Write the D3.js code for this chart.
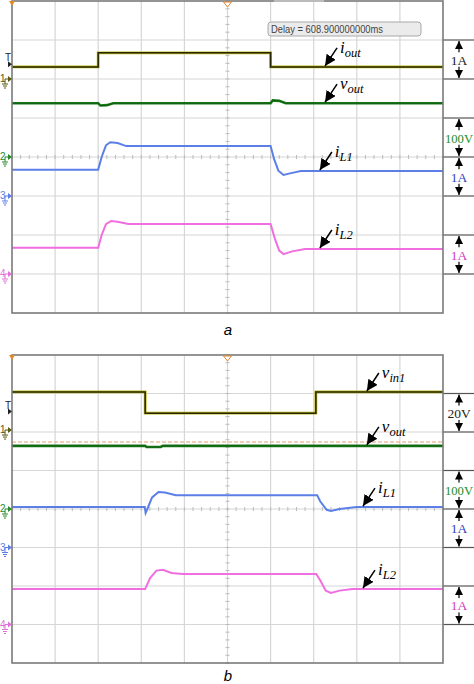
<!DOCTYPE html>
<html><head><meta charset="utf-8">
<script src="https://cdn.jsdelivr.net/npm/d3@7"></script>
<style>body{margin:0;background:#fff}svg{display:block}</style>
</head><body>
<svg id="c" width="474" height="684"></svg>
<script>
// ---- data (time in divisions 0..10, level in divisions from top 0..8) ----
const xDivisions = d3.range(0, 11);
const yDivisions = d3.range(0, 9);

// Panel a
const a_iout = [[0,1.69],[2.0,1.69],[2.0,1.33],[6.0,1.33],[6.0,1.69],[10,1.69]];
const a_vout = [[0,2.62],[2.0,2.62],[2.05,2.68],[2.2,2.67],[2.35,2.62],[6.0,2.62],[6.05,2.55],[6.2,2.56],[6.35,2.62],[10,2.62]];
const a_iL1  = [[0,4.33],[2.0,4.33],[2.08,4.0],[2.18,3.7],[2.28,3.62],[2.45,3.64],[2.65,3.72],[6.0,3.72],[6.08,4.05],[6.18,4.35],[6.3,4.46],[6.45,4.42],[6.7,4.36],[10,4.36]];
const a_iL2  = [[0,6.33],[2.0,6.33],[2.08,6.0],[2.18,5.72],[2.3,5.64],[2.45,5.66],[2.7,5.72],[6.0,5.72],[6.1,6.1],[6.2,6.4],[6.3,6.49],[6.5,6.42],[6.8,6.36],[10,6.36]];

// Panel b
const b_vin1 = [[0,0.96],[3.09,0.96],[3.09,1.51],[7.05,1.51],[7.05,0.96],[10,0.96]];
const b_vout = [[0,2.36],[3.09,2.36],[3.12,2.39],[3.45,2.39],[3.5,2.36],[10,2.36]];
const b_vref = [[0,2.26],[10,2.26]];
const b_iL1  = [[0,3.95],[3.08,3.95],[3.1,4.1],[3.14,4.0],[3.25,3.7],[3.4,3.56],[3.55,3.57],[3.8,3.64],[7.08,3.64],[7.15,3.8],[7.3,4.02],[7.4,4.05],[7.6,4.0],[8.0,3.95],[10,3.95]];
const b_iL2  = [[0,6.08],[3.09,6.08],[3.2,5.8],[3.35,5.6],[3.5,5.58],[3.7,5.66],[3.95,5.69],[7.06,5.69],[7.15,5.85],[7.28,6.12],[7.4,6.18],[7.6,6.12],[7.9,6.08],[10,6.08]];

// scale bars at right: [from div, to div, label]
const a_scales = [[1,2,"1A"],[3,4,"100V"],[4,5,"1A"],[6,7,"1A"]];
const b_scales = [[1,2,"20V"],[3,4,"100V"],[4,5,"1A"],[6,7,"1A"]];
const scaleLines = [1,2,3,4,5,6,7];

// channel markers: [label, level]
const a_markers = [["T",1.62],["1",2.0],["2",4.0],["3",5.0],["4",7.0]];
const b_markers = [["T",1.47],["1",1.95],["2",4.0],["3",5.0],["4",7.0]];

// annotations: [main letter, subscript, time(div) of arrow tip, trace]
const a_notes = [["i","out",7.24,"iout"],["v","out",7.24,"vout"],["i","L1",7.12,"iL1"],["i","L2",7.12,"iL2"]];
const b_notes = [["v","in1",8.21,"vin1"],["v","out",8.21,"vout"],["i","L1",8.12,"iL1"],["i","L2",8.12,"iL2"]];

const delayText = "Delay = 608.900000000ms";
const panelLabels = ["a","b"];

// ---- drawing ----
const svg = d3.select("#c");
const COL = {olive:"#262600", yellow:"#b8b418", green:"#1a7d1a", blue:"#5b7fe6", pink:"#f06ee0", grid:"#d6d6d6", border:"#7a7a7a", orange:"#e08a30"};
const chColors = {"T":"#222","1":"#5a5a10","2":"#2a8a2a","3":"#5b7fe6","4":"#e070d8"};
const scaleColors = ["#222", "#1e8c1e", "#3344bb", "#d040c0"];

const defs = svg.append("defs");
defs.append("marker").attr("id","ah").attr("viewBox","0 0 10 10")
  .attr("refX",10).attr("refY",5).attr("markerWidth",8).attr("markerHeight",8)
  .attr("markerUnits","userSpaceOnUse").attr("orient","auto")
  .append("path").attr("d","M0,0 L10,5 L0,10 z").attr("fill","#000");
defs.append("marker").attr("id","ah2").attr("viewBox","0 0 10 10")
  .attr("refX",10).attr("refY",5).attr("markerWidth",11).attr("markerHeight",11)
  .attr("markerUnits","userSpaceOnUse").attr("orient","auto")
  .append("path").attr("d","M0,0 L10,5 L0,10 z").attr("fill","#000");

function getLevel(tr, t){
  for(let i=1;i<tr.length;i++){
    if(t<=tr[i][0]){const [t0,v0]=tr[i-1],[t1,v1]=tr[i];return t1===t0?v1:v0+(v1-v0)*(t-t0)/(t1-t0);}
  }
  return tr[tr.length-1][1];
}

function panel(top, bottom, traces, scales, markers, notes, label, labelY, isB){
  const x = d3.scaleLinear().domain([0,10]).range([12,443]);
  const y = d3.scaleLinear().domain([0,8]).range([top,bottom]);
  const g = svg.append("g");
  // grid
  g.selectAll(".vg").data(xDivisions.slice(1,10)).join("line")
    .attr("x1",d=>x(d)).attr("x2",d=>x(d)).attr("y1",top).attr("y2",bottom)
    .attr("stroke",COL.grid).attr("stroke-width",1.2);
  g.selectAll(".hg").data(yDivisions.slice(1,8)).join("line")
    .attr("x1",x(0)).attr("x2",x(10)).attr("y1",d=>y(d)).attr("y2",d=>y(d))
    .attr("stroke",COL.grid).attr("stroke-width",1.2);
  // minor ticks on centre lines
  const mv = d3.range(0,8.01,0.2), mh = d3.range(0,10.01,0.2);
  g.selectAll(".mt").data(mv).join("line")
    .attr("x1",x(5)-2).attr("x2",x(5)+2).attr("y1",d=>y(d)).attr("y2",d=>y(d))
    .attr("stroke","#bbb").attr("stroke-width",1);
  g.selectAll(".mt2").data(mh).join("line")
    .attr("x1",d=>x(d)).attr("x2",d=>x(d)).attr("y1",y(4)-2).attr("y2",y(4)+2)
    .attr("stroke","#bbb").attr("stroke-width",1);
  // right scale lines
  g.selectAll(".sl").data(scaleLines).join("line")
    .attr("x1",x(10)).attr("x2",474).attr("y1",d=>y(d)).attr("y2",d=>y(d))
    .attr("stroke","#555").attr("stroke-width",1.2);
  scales.forEach((s,i)=>{
    const y0=y(s[0]), y1=y(s[1]), m=(y0+y1)/2, cx=459;
    g.append("line").attr("x1",cx).attr("x2",cx).attr("y1",m-7).attr("y2",y0+1)
      .attr("stroke","#000").attr("stroke-width",1.2).attr("marker-end","url(#ah)");
    g.append("line").attr("x1",cx).attr("x2",cx).attr("y1",m+7).attr("y2",y1-1)
      .attr("stroke","#000").attr("stroke-width",1.2).attr("marker-end","url(#ah)");
    g.append("rect").attr("x",cx-15).attr("y",m-7).attr("width",30).attr("height",14).attr("fill","#fff");
    const txt = g.append("text").attr("x",cx).attr("y",m+5).attr("text-anchor","middle")
      .attr("font-family","Liberation Serif, Times New Roman, serif").attr("font-size",13.5)
      .attr("fill",scaleColors[i]).text(s[2]);
    if(s[2].length>3) txt.attr("textLength",28).attr("lengthAdjust","spacingAndGlyphs");
  });
  // reference dashed line (panel b)
  const line = d3.line().x(d=>x(d[0])).y(d=>y(d[1]));
  if(isB){
    g.append("path").attr("d",line(b_vref)).attr("fill","none")
      .attr("stroke","#e0a070").attr("stroke-width",1.2).attr("stroke-dasharray","4,2");
  }
  // traces
  const [t1,t2,t3,t4] = traces;
  g.append("path").attr("d",line(t1.d)).attr("fill","none").attr("stroke",COL.yellow).attr("stroke-width",2.8);
  g.append("path").attr("d",line(t1.d)).attr("fill","none").attr("stroke",COL.olive).attr("stroke-width",1.5);
  g.append("path").attr("d",line(t2.d)).attr("fill","none").attr("stroke",COL.green).attr("stroke-width",2.6);
  g.append("path").attr("d",line(t2.d)).attr("fill","none").attr("stroke","#0f5a0f").attr("stroke-width",1);
  g.append("path").attr("d",line(t3.d)).attr("fill","none").attr("stroke",COL.blue).attr("stroke-width",2);
  g.append("path").attr("d",line(t4.d)).attr("fill","none").attr("stroke",COL.pink).attr("stroke-width",2);
  // border
  g.append("rect").attr("x",x(0)).attr("y",top).attr("width",x(10)-x(0)).attr("height",bottom-top)
    .attr("fill","none").attr("stroke",COL.border).attr("stroke-width",1.6);
  // top markers
  g.append("path").attr("d",`M${x(0)-3},${top} L${x(0)+3},${top} L${x(0)},${top+5} z`).attr("fill",COL.orange);
  g.append("path").attr("d",`M${x(5)-4},${top+1} L${x(5)+4},${top+1} L${x(5)},${top+6} z`)
    .attr("fill","#fff").attr("stroke",COL.orange).attr("stroke-width",1);
  // channel markers
  markers.forEach(m=>{
    const yy=y(m[1]), c=chColors[m[0]];
    g.append("path").attr("d",`M${x(0)-4},${yy-3} L${x(0)},${yy} L${x(0)-4},${yy+3} z`).attr("fill",c);
    if(m[0]==="T"){
      g.append("text").attr("x",5).attr("y",yy-3).attr("font-family","Liberation Sans, sans-serif")
        .attr("font-size",10).attr("fill",c).text("T");
    } else {
      g.append("text").attr("x",0).attr("y",yy+3).attr("font-family","Liberation Sans, sans-serif")
        .attr("font-size",10).attr("fill",c).text(m[0]);
      g.append("path").attr("d",`M5,${yy} L5,${yy+5} M2,${yy+5} L8,${yy+5} M3,${yy+7} L7,${yy+7} M4,${yy+9} L6,${yy+9}`)
        .attr("stroke",c).attr("stroke-width",1).attr("fill","none");
      g.append("line").attr("x1",5).attr("x2",x(0)-3).attr("y1",yy).attr("y2",yy).attr("stroke",c).attr("stroke-width",1);
    }
  });
  // annotations
  const byKey = {};
  traces.forEach(t=>byKey[t.k]=t.d);
  notes.forEach(n=>{
    const tx=x(n[2]), ty=y(getLevel(byKey[n[3]], n[2]));
    g.append("line").attr("x1",tx+13).attr("y1",ty-19).attr("x2",tx+1).attr("y2",ty-1)
      .attr("stroke","#000").attr("stroke-width",1.5).attr("marker-end","url(#ah2)");
    const t = g.append("text").attr("x",tx+16).attr("y",ty-14)
      .attr("font-family","Liberation Serif, Times New Roman, serif").attr("font-style","italic")
      .attr("font-size",17).attr("fill","#000");
    t.append("tspan").text(n[0]);
    t.append("tspan").attr("dy",4).attr("font-size",12.5).text(n[1]);
  });
  // panel label
  svg.append("text").attr("x",228).attr("y",labelY).attr("text-anchor","middle")
    .attr("font-family","Liberation Sans, Arial, sans-serif").attr("font-style","italic")
    .attr("font-size",15).attr("fill","#000").text(label);
  return {x,y};
}

const pa = panel(1, 313,
  [{k:"iout",d:a_iout},{k:"vout",d:a_vout},{k:"iL1",d:a_iL1},{k:"iL2",d:a_iL2}],
  a_scales, a_markers, a_notes, panelLabels[0], 335, false);
// delay box + top grey tab (panel a)
svg.append("rect").attr("x",274).attr("y",0).attr("width",50).attr("height",2).attr("fill","#bbb");
svg.append("rect").attr("x",268).attr("y",22).attr("width",153).attr("height",14).attr("rx",3)
  .attr("fill","#ebebeb").attr("stroke","#a8a8a8").attr("stroke-width",1);
svg.append("text").attr("x",271).attr("y",33).attr("font-family","Liberation Sans Narrow, Liberation Sans, sans-serif")
  .attr("font-size",11).attr("fill","#444").attr("textLength",112).attr("lengthAdjust","spacingAndGlyphs").text(delayText);

const pb = panel(355, 663,
  [{k:"vin1",d:b_vin1},{k:"vout",d:b_vout},{k:"iL1",d:b_iL1},{k:"iL2",d:b_iL2}],
  b_scales, b_markers, b_notes, panelLabels[1], 681, true);
</script>
</body></html>
